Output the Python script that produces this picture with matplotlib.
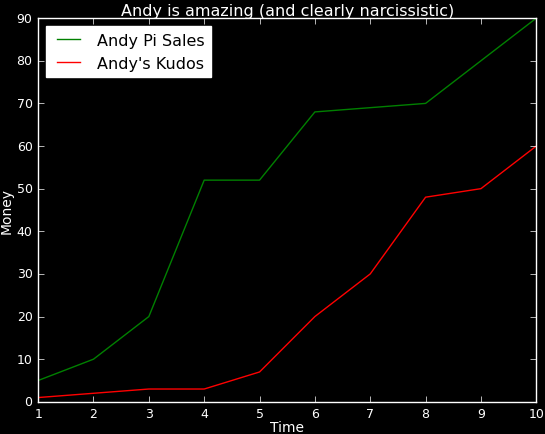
import matplotlib
matplotlib.use("Agg")
import matplotlib.pyplot as plt

time = [1, 2, 3, 4, 5, 6, 7, 8, 9, 10]
pi_sales = [5, 10, 20, 52, 52, 68, 69, 70, 80, 90]
kudos = [1, 2, 3, 3, 7, 20, 30, 48, 50, 60]

plt.style.use("classic")
plt.rcParams.update({
    "figure.facecolor": "black",
    "axes.facecolor": "black",
    "axes.edgecolor": "white",
    "axes.labelcolor": "white",
    "xtick.color": "white",
    "ytick.color": "white",
    "text.color": "white",
})

fig, ax = plt.subplots(figsize=(5.45, 4.35), dpi=100)
ax.plot(time, pi_sales, color="green", label="Andy Pi Sales")
ax.plot(time, kudos, color="red", label="Andy's Kudos")
ax.set_title("Andy is amazing (and clearly narcissistic)", fontsize=11.5, pad=2)
ax.set_xlabel("Time", fontsize=10, labelpad=0)
ax.set_ylabel("Money", fontsize=10, labelpad=2)
ax.tick_params(labelsize=9)
leg = ax.legend(loc="upper left", fontsize=11.5, facecolor="white",
                edgecolor="white", framealpha=1)
for t in leg.get_texts():
    t.set_color("black")
fig.subplots_adjust(left=0.07, right=0.984, bottom=0.074, top=0.956)
fig.savefig("out.png", facecolor="black")
